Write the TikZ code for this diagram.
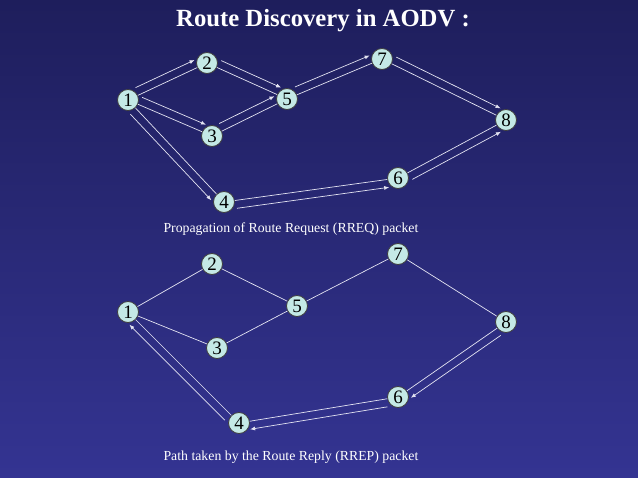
\documentclass[tikz,border=0pt]{standalone}
\usepackage{fontspec}
\setmainfont{Liberation Serif}
\usetikzlibrary{arrows.meta,calc}

\definecolor{bgtop}{RGB}{30,30,92}
\definecolor{bgbot}{RGB}{52,52,146}
\definecolor{nodefill}{RGB}{196,233,230}
\definecolor{linkcol}{RGB}{228,228,242}

% message arrow drawn beside a link: from, to, signed offset
\newcommand{\msg}[3]{\draw[msg] ($(#1)!#3!90:(#2)$) -- ($(#2)!#3!-90:(#1)$);}

\begin{document}
\begin{tikzpicture}[x=1pt, y=-1pt,
	host/.style={circle, draw=black!75, line width=0.8pt, fill=nodefill, minimum size=21pt, inner sep=0pt, font=\fontsize{19}{19}\selectfont},
	link/.style={draw=linkcol, line width=0.7pt},
	msg/.style={draw=linkcol, line width=0.7pt, -{Latex[length=5pt,width=4pt]}, shorten <=12pt, shorten >=10pt},
	caption/.style={anchor=west, text=white, font=\fontsize{13.8}{14}\selectfont}]
	\useasboundingbox (0,0) rectangle (638,478);
	\shade[top color=bgtop, bottom color=bgbot] (0,0) rectangle (638,478);
	\node[text=white, font=\fontsize{24.7}{26}\bfseries] (title) at (323,21) {Route Discovery in AODV :};

	% RREQ flooding
	\node[host] (q1) at (128,100) {1};
	\node[host] (q2) at (207,63) {2};
	\node[host] (q3) at (212,136) {3};
	\node[host] (q4) at (224,202) {4};
	\node[host] (q5) at (287,99) {5};
	\node[host] (q6) at (398,178) {6};
	\node[host] (q7) at (382,59) {7};
	\node[host] (q8) at (506,120) {8};
	\draw[link] (q1) -- (q2);
	\draw[link] (q1) -- (q3);
	\draw[link] (q1) -- (q4);
	\draw[link] (q2) -- (q5);
	\draw[link] (q3) -- (q5);
	\draw[link] (q5) -- (q7);
	\draw[link] (q7) -- (q8);
	\draw[link] (q4) -- (q6);
	\draw[link] (q6) -- (q8);
	\msg{q1}{q2}{8pt}
	\msg{q1}{q3}{8pt}
	\msg{q1}{q4}{-8pt}
	\msg{q2}{q5}{8pt}
	\msg{q3}{q5}{8pt}
	\msg{q5}{q7}{8pt}
	\msg{q7}{q8}{8pt}
	\msg{q4}{q6}{-8pt}
	\msg{q6}{q8}{-8pt}
	\node[caption] (reqtext) at (160,229) {Propagation of Route Request (RREQ) packet};

	% RREP back along the reverse path
	\node[host] (p1) at (128,312) {1};
	\node[host] (p2) at (212,264) {2};
	\node[host] (p3) at (217,348) {3};
	\node[host] (p4) at (239,423) {4};
	\node[host] (p5) at (297,306) {5};
	\node[host] (p6) at (398,397) {6};
	\node[host] (p7) at (398,254) {7};
	\node[host] (p8) at (506,322) {8};
	\draw[link] (p1) -- (p2);
	\draw[link] (p1) -- (p3);
	\draw[link] (p1) -- (p4);
	\draw[link] (p2) -- (p5);
	\draw[link] (p3) -- (p5);
	\draw[link] (p5) -- (p7);
	\draw[link] (p7) -- (p8);
	\draw[link] (p8) -- (p6);
	\draw[link] (p6) -- (p4);
	\msg{p8}{p6}{8pt}
	\msg{p6}{p4}{8pt}
	\msg{p4}{p1}{8pt}
	\node[caption] (reptext) at (160,457) {Path taken by the Route Reply (RREP) packet};
\end{tikzpicture}
\end{document}
